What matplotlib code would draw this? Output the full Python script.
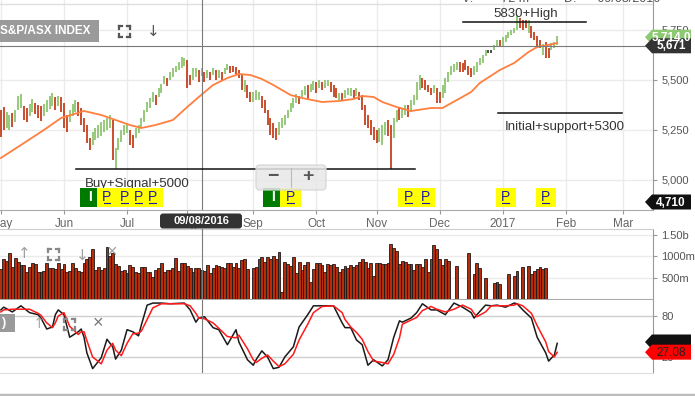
import matplotlib.pyplot as plt
from matplotlib.patches import Rectangle, Polygon, FancyBboxPatch

plt.rcParams['font.family'] = ['Liberation Sans', 'DejaVu Sans']

W, H = 695, 396

# x axis is a trading-day index, 0 = 2 May 2016
month_idx = [0, 22, 44, 65, 88, 110, 131, 153, 175, 197, 217]
month_lbl = ['May', 'Jun', 'Jul', 'Aug', 'Sep', 'Oct', 'Nov', 'Dec', '2017', 'Feb', 'Mar']

price_ticks = [5000, 5250, 5500, 5750]
price_lbls = ['5,000', '5,250', '5,500', '5,750']

# daily bars
highs = [5350, 5365, 5340, 5325, 5335, 5350, 5420, 5430, 5370, 5360,
         5380, 5405, 5385, 5375, 5370, 5380, 5400, 5420, 5435, 5415,
         5420, 5415, 5385, 5325, 5350, 5380, 5400, 5390, 5360, 5310,
         5275, 5210, 5240, 5260, 5275, 5290, 5300, 5310, 5325, 5300,
         5160, 5210, 5250, 5275, 5285, 5250, 5225, 5260, 5275, 5310,
         5350, 5390, 5410, 5440, 5425, 5460, 5480, 5520, 5510, 5540,
         5560, 5570, 5590, 5615, 5610, 5600, 5525, 5560, 5560, 5550,
         5560, 5540, 5550, 5540, 5560, 5550, 5550, 5540, 5560, 5580,
         5570, 5570, 5565, 5550, 5525, 5500, 5475, 5440, 5440, 5450,
         5440, 5420, 5400, 5350, 5310, 5285, 5260, 5290, 5310, 5325,
         5350, 5385, 5410, 5430, 5420, 5450, 5470, 5475, 5480, 5495,
         5490, 5500, 5490, 5500, 5500, 5490, 5475, 5460, 5435, 5435,
         5450, 5460, 5460, 5450, 5460, 5440, 5425, 5375, 5325, 5300,
         5265, 5250, 5260, 5275, 5290, 5300, 5275, 5310, 5350, 5360,
         5360, 5375, 5375, 5400, 5425, 5490, 5525, 5510, 5500, 5475,
         5460, 5475, 5460, 5440, 5475, 5510, 5540, 5570, 5580, 5590,
         5590, 5585, 5600, 5570, 5560, 5570, 5590, 5610, 5625, 5650,
         5650, 5650, 5675, 5700, 5700, 5715, 5725, 5740, 5750, 5760,
         5825, 5810, 5800, 5800, 5800, 5770, 5740, 5720, 5700, 5680,
         5690, 5660, 5685, 5690, 5720]
lows = [5215, 5250, 5260, 5250, 5265, 5290, 5350, 5360, 5300, 5290,
        5320, 5340, 5330, 5310, 5295, 5320, 5340, 5355, 5370, 5350,
        5370, 5340, 5260, 5240, 5290, 5320, 5340, 5320, 5275, 5240,
        5185, 5150, 5175, 5200, 5210, 5220, 5240, 5250, 5260, 5100,
        5055, 5150, 5190, 5225, 5235, 5175, 5160, 5210, 5235, 5260,
        5290, 5340, 5360, 5390, 5375, 5415, 5435, 5480, 5470, 5500,
        5515, 5540, 5550, 5560, 5570, 5460, 5475, 5500, 5515, 5490,
        5520, 5490, 5510, 5500, 5525, 5500, 5510, 5500, 5530, 5550,
        5535, 5540, 5530, 5510, 5450, 5440, 5410, 5390, 5390, 5400,
        5400, 5360, 5335, 5275, 5225, 5210, 5200, 5225, 5260, 5275,
        5310, 5340, 5360, 5385, 5380, 5415, 5425, 5400, 5440, 5450,
        5435, 5460, 5450, 5460, 5470, 5440, 5415, 5410, 5400, 5400,
        5410, 5425, 5420, 5410, 5420, 5400, 5350, 5275, 5260, 5225,
        5200, 5185, 5190, 5175, 5225, 5220, 5055, 5210, 5290, 5300,
        5310, 5325, 5315, 5340, 5375, 5400, 5450, 5460, 5450, 5440,
        5425, 5435, 5385, 5385, 5410, 5435, 5490, 5525, 5540, 5550,
        5540, 5540, 5550, 5525, 5515, 5525, 5540, 5575, 5585, 5620,
        5635, 5635, 5650, 5665, 5665, 5665, 5690, 5710, 5725, 5735,
        5750, 5760, 5750, 5760, 5735, 5710, 5700, 5670, 5660, 5625,
        5610, 5610, 5650, 5660, 5675]
# g = up bar, r = down bar, k = unchanged
bar_dir = ("rrggrgggrr" "ggrrrggggr" "grrrgggrrr" "rrgggggggr" "gggggrrggg"
           "ggggrgggrg" "gggggrrggr" "grgrgrgrgg" "rrrrrgrrgg" "grrrrrrggg"
           "ggggrggrgg" "rgrggrrrgr" "gggrgrrrrr" "rrgggrrggr" "ggrggggrrr"
           "rgrrgggggg" "rrrrrggggg" "kkggrggggg" "grrrgrrrrg" "rrggg")

# moving average (orange line)
ma_idx = [0, 7, 15, 21, 29, 35, 38, 45, 49, 54, 60, 65, 69, 74, 79, 83, 87, 91, 95, 101,
          105, 112, 118, 123, 126, 130, 133, 138, 143, 150, 154, 159, 164, 167, 174, 179, 184, 187, 191, 194]
ma_vals = [5110, 5175, 5250, 5310, 5345, 5325, 5310, 5275, 5260, 5275, 5300, 5365, 5415, 5475,
           5510, 5530, 5525, 5505, 5475, 5425, 5410, 5390, 5395, 5405, 5420, 5415, 5390, 5365,
           5345, 5360, 5360, 5400, 5440, 5485, 5550, 5585, 5640, 5665, 5675, 5685]

# volume in millions
volume = [700, 930, 880, 1070, 745, 950, 860, 790, 790, 630,
          745, 835, 815, 630, 630, 650, 835, 720, 720, 700,
          835, 700, 815, 630, 650, 835, 720, 650, 630, 835,
          930, 980, 1160, 675, 745, 675, 720, 1210, 1000, 1070,
          815, 770, 650, 675, 605, 790, 745, 630, 605, 745,
          745, 630, 630, 510, 675, 720, 835, 630, 675, 675,
          720, 950, 650, 835, 835, 770, 720, 630, 720, 720,
          675, 650, 790, 605, 720, 790, 770, 745, 720, 835,
          835, 745, 835, 720, 905, 930, 700, 0, 720, 745,
          930, 975, 860, 975, 930, 1000, 930, 1090, 160, 860,
          815, 770, 975, 605, 860, 675, 790, 860, 395, 700,
          835, 835, 790, 630, 815, 790, 815, 745, 630, 700,
          770, 720, 790, 745, 790, 860, 930, 860, 720, 835,
          535, 835, 835, 815, 815, 835, 1280, 1185, 1115, 815,
          880, 860, 815, 815, 675, 815, 815, 745, 930, 630,
          930, 1255, 1165, 930, 790, 930, 880, 0, 0, 770,
          0, 0, 0, 1070, 0, 580, 835, 720, 0, 490,
          0, 0, 370, 395, 350, 0, 0, 580, 0, 535,
          650, 0, 745, 0, 770, 580, 650, 700, 745, 700,
          720, 0, 0, 0, 0]

# slow stochastic
stoch_idx = [0, 1, 4, 7, 10, 13, 14, 16, 18, 19, 20, 22, 24, 27, 28, 29, 30, 32, 35, 37,
             39, 40, 42, 44, 46, 48, 49, 51, 53, 56, 59, 64, 66, 68, 69, 71, 74, 76, 79, 82,
             83, 86, 88, 89, 91, 93, 95, 97, 99, 102, 104, 107, 109, 112, 116, 119, 120, 122, 124, 126,
             128, 130, 133, 135, 137, 139, 140, 143, 145, 147, 150, 152, 155, 158, 161, 164, 165, 166, 169, 171,
             173, 176, 179, 180, 182, 185, 187, 190, 191, 193, 194]
k_vals = [89, 93, 86, 95, 85, 82, 77, 61, 64, 82, 89, 82, 49, 57, 61, 49, 26, 3, 19, 46,
          35, 17, 30, 60, 57, 51, 67, 96, 99, 99, 98, 99, 89, 71, 77, 79, 63, 60, 38, 60,
          42, 16, 8, 16, 29, 20, 3, 5, 20, 35, 64, 82, 95, 95, 95, 70, 63, 63, 45, 38,
          8, 16, 7, 16, 49, 73, 71, 77, 85, 98, 89, 89, 82, 99, 93, 85, 77, 82, 96, 95,
          96, 93, 99, 98, 89, 77, 49, 26, 14, 23, 40]
d_vals = [86, 89, 90, 90, 90, 84, 81, 70, 63, 70, 80, 85, 65, 53, 57, 57, 44, 20, 10, 30,
          40, 30, 22, 40, 54, 55, 58, 75, 92, 98, 98, 98, 95, 84, 77, 76, 70, 62, 50, 48,
          52, 32, 16, 12, 18, 23, 14, 6, 10, 24, 45, 68, 85, 94, 95, 85, 75, 64, 56, 46,
          28, 14, 12, 10, 24, 48, 68, 74, 78, 88, 94, 90, 86, 90, 96, 90, 84, 79, 86, 95,
          95, 95, 96, 98, 95, 84, 66, 42, 28, 20, 27]

# signal markers under the price bars
sig_idx = [31, 37, 43, 48, 53, 95, 101, 142, 148, 176, 190]
sig_type = ['I', 'P', 'P', 'P', 'P', 'I', 'P', 'P', 'P', 'P', 'P']

cross_idx = 70.2
cross_price = 5671
last_price = 5714.0
low_tag = 4710
k_last, d_last = 42, 27.08

GREEN, RED = '#84c163', '#c1300b'
GRID = '#ebebeb'


def frac(x0, y0, x1, y1):
    return [x0 / W, 1 - y1 / H, (x1 - x0) / W, (y1 - y0) / H]


fig = plt.figure(figsize=(W / 100, H / 100), dpi=100)
ax = fig.add_axes(frac(0, 0, 653, 210))
axv = fig.add_axes(frac(0, 229, 653, 299))
axs = fig.add_axes(frac(0, 300, 653, 373))
ui = fig.add_axes([0, 0, 1, 1], zorder=10)
ui.set_xlim(0, W)
ui.set_ylim(H, 0)
ui.axis('off')
ui.patch.set_visible(False)

for a in (ax, axv, axs):
    a.set_xlim(-0.3, 227.4)
    a.set_xticks(month_idx)
    a.yaxis.tick_right()
    a.spines['left'].set_visible(False)
    a.spines['right'].set_color('#999999')
    a.tick_params(axis='y', length=3, color='#999999', labelcolor='#555555', labelsize=8, pad=3)
    a.axvline(cross_idx, color='#7a7a7a', lw=0.8, zorder=4)

# ---- price panel
n = len(highs)
idx = list(range(n))
cols = [GREEN if c == 'g' else RED if c == 'r' else '#333333' for c in bar_dir]
ax.vlines(idx, lows, highs, colors=cols, lw=1.2, zorder=3)
ax.plot(ma_idx, ma_vals, color='#ff7f3f', lw=1.3, zorder=3)
ax.set_ylim(4850, 5900)
ax.set_yticks(price_ticks)
ax.set_yticklabels(price_lbls)
ax.set_xticklabels(month_lbl)
ax.tick_params(axis='x', length=3, color='#999999', labelcolor='#666666', labelsize=8.5, pad=3)
ax.grid(color=GRID, lw=1)
ax.set_axisbelow(True)
ax.axhline(5880, color='#e0e0e0', lw=1)
ax.spines['top'].set_visible(False)
ax.spines['bottom'].set_color('#aaaaaa')
ax.axhline(cross_price, color='#7a7a7a', lw=0.8, zorder=4)

# hand drawn lines and notes
ax.plot([26.2, 144.4], [5055, 5055], color='#111111', lw=1.1, zorder=4)
ax.text(29.3, 4982, 'Buy+Signal+5000', fontsize=9.5, color='#333333', va='center')
ax.plot([161.2, 204.1], [5790, 5790], color='#111111', lw=1.1, zorder=4)
ax.text(171.6, 5828, '5830+High', fontsize=9.5, color='#333333', va='center')
ax.plot([173.4, 216.6], [5335, 5335], color='#111111', lw=1.1, zorder=4)
ax.text(175.8, 5265, 'Initial+support+5300', fontsize=9.5, color='#333333', va='center')

for i, t in zip(sig_idx, sig_type):
    fc = '#007a00' if t == 'I' else '#ffff00'
    ax.add_patch(Rectangle((i - 3.5, 4866), 7, 94, fc=fc, ec='none', zorder=5))
for i, t in zip(sig_idx, sig_type):
    if t == 'I':
        ax.text(i, 4913, 'I', color='white', fontsize=10, fontweight='bold', ha='center', va='center', zorder=6)
    else:
        ax.text(i, 4915, 'P', color='#1a1aa6', fontsize=10, ha='center', va='center', zorder=6)
        ax.plot([i - 1.2, i + 1.2], [4886, 4886], color='#1a1aa6', lw=0.8, zorder=6)

# ---- volume panel
axv.bar(idx, volume, width=1.0, color='#b52d0b', edgecolor='#1a1a1a', lw=0.6, zorder=3)
axv.set_ylim(0, 1628)
axv.set_yticks([500, 1000, 1500])
axv.set_yticklabels(['500m', '1000m', '1.50b'])
axv.tick_params(axis='x', bottom=False, labelbottom=False)
axv.grid(axis='y', color=GRID, lw=1)
axv.set_axisbelow(True)
axv.spines['top'].set_color('#cccccc')
axv.spines['bottom'].set_color('#aaaaaa')

# ---- stochastic panel
axs.plot(stoch_idx, k_vals, color='#1a1a1a', lw=1.1, zorder=3)
axs.plot(stoch_idx, d_vals, color='#ff1a1a', lw=1.1, zorder=3)
axs.set_ylim(-3.4, 103.5)
axs.set_yticks([20, 80])
axs.tick_params(axis='x', bottom=False, labelbottom=False)
axs.grid(axis='y', color='#cfcfcf', lw=1)
axs.spines['top'].set_visible(False)
axs.spines['bottom'].set_color('#dddddd')


# ---- overlay: labels, tags and toolbar bits (pixel coordinates)
def ui_y(a, v):
    return H - a.transData.transform((0, v))[1]


def tag(y, text, fc, tc, bold=True, h=15):
    x0, x1 = 645, 691
    ui.add_patch(Polygon([(x0, y), (x0 + 7, y - h / 2), (x1, y - h / 2), (x1, y + h / 2), (x0 + 7, y + h / 2)],
                         closed=True, fc=fc, ec='none'))
    ui.text(671, y + 0.5, text, color=tc, fontsize=8.5, fontweight='bold' if bold else 'normal',
            ha='center', va='center')


def expand_icon(cx, cy, s=5.5, color='#555555'):
    for sx in (-1, 1):
        for sy in (-1, 1):
            ui.plot([cx + sx * s, cx + sx * (s - 3)], [cy + sy * s, cy + sy * s], color=color, lw=1.6)
            ui.plot([cx + sx * s, cx + sx * s], [cy + sy * s, cy + sy * (s - 3)], color=color, lw=1.6)


tag(ui_y(ax, last_price), '5,714.0', '#8dc873', 'white')
tag(ui_y(ax, cross_price), '5,671', '#333333', 'white')
tag(min(ui_y(ax, low_tag), 202), '4,710', '#111111', 'white')
tag(ui_y(axs, k_last), '', '#111111', 'white')
tag(ui_y(axs, d_last), f'{d_last:.2f}', '#ff0000', '#222222', bold=False)

ui.add_patch(Rectangle((0, 20), 99, 22, fc='#9a9a9a', ec='none'))
ui.text(90, 31.5, 'S&P/ASX INDEX', color='white', fontsize=8.5, fontweight='bold', ha='right', va='center')
expand_icon(124, 31)
ui.text(153, 31, '\u2193', color='#555555', fontsize=11, ha='center', va='center', family='DejaVu Sans')
ui.text(462, -1, 'V:        72 m          D:      09/08/2016', color='#555555', fontsize=9, va='center')

ui.add_patch(FancyBboxPatch((160, 213.5), 82, 15, boxstyle='round,pad=0,rounding_size=3',
                            fc='#333333', ec='none'))
ui.text(201, 221.5, '09/08/2016', color='white', fontsize=8, fontweight='bold', ha='center', va='center')

ui.add_patch(FancyBboxPatch((256, 165), 70, 25, boxstyle='round,pad=0,rounding_size=4',
                            fc='#e8e8e8', ec='#d5d5d5', alpha=0.85))
ui.plot([291, 291], [168, 187], color='#bbbbbb', lw=0.8)
ui.text(273, 177, '\u2212', color='#555555', fontsize=14, fontweight='bold', ha='center', va='center')
ui.text(308, 177, '+', color='#555555', fontsize=14, fontweight='bold', ha='center', va='center')

ui.text(24, 254, '\u2191', color='#888888', fontsize=11, ha='center', va='center', family='DejaVu Sans', alpha=0.8)
expand_icon(53, 254, color='#888888')
ui.text(82, 255, '\u2193', color='#888888', fontsize=11, ha='center', va='center', family='DejaVu Sans', alpha=0.8)
ui.text(112, 253, '\u00d7', color='#888888', fontsize=13, ha='center', va='center', alpha=0.8)

ui.add_patch(Rectangle((0, 314), 15, 18, fc='#9a9a9a', ec='none'))
ui.text(4, 323, ')', color='white', fontsize=9, fontweight='bold', ha='center', va='center')
ui.text(39, 324, '\u2191', color='#888888', fontsize=11, ha='center', va='center', family='DejaVu Sans', alpha=0.7)
expand_icon(69, 324, color='#888888')
ui.text(98, 324, '\u00d7', color='#777777', fontsize=13, ha='center', va='center')

ui.plot([0, W], [394.5, 394.5], color='#bdbdbd', lw=2.5)

fig.savefig('out.png', dpi=100)
